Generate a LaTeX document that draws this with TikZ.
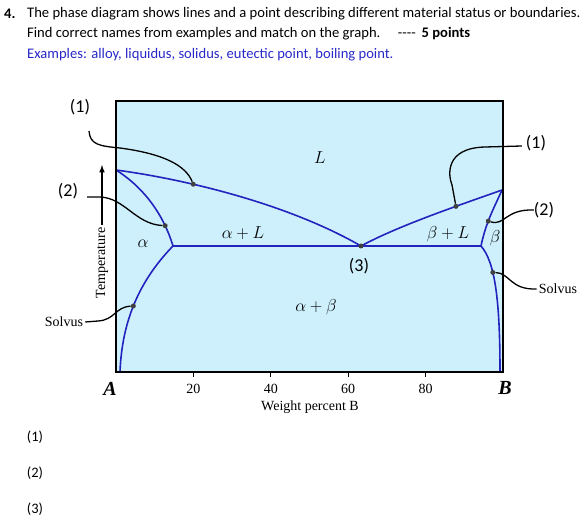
\documentclass[tikz,border=0pt]{standalone}
\usepackage{fontspec}
\setmainfont{Carlito}
\newfontfamily\plotserif{Liberation Serif}
\usetikzlibrary{positioning}
\definecolor{phasefill}{RGB}{205,240,252}
\definecolor{phaseline}{RGB}{35,35,190}
\definecolor{exblue}{RGB}{40,40,200}

\tikzset{
  phase/.style={draw=phaseline,line width=1.6pt},
  callout/.style={draw=black,line width=1.3pt},
  hit/.style={circle,fill=black!75,inner sep=0pt,minimum size=5pt},
  tag/.style={font=\fontsize{18}{20}\selectfont,inner sep=0pt},
  answer/.style={font=\fontsize{14.5}{16}\selectfont,inner sep=0pt},
  header/.style={anchor=west,inner sep=0pt,font=\fontsize{14.6}{16}\selectfont},
  axistext/.style={inner sep=0pt,font=\plotserif\fontsize{14}{16}\selectfont},
  region/.style={inner sep=0pt,font=\fontsize{17}{19}\selectfont},
  corner/.style={inner sep=0pt,font=\plotserif\itshape\bfseries\fontsize{20}{22}\selectfont},
}

\begin{document}
\begin{tikzpicture}[x=1pt,y=-1pt]
	\useasboundingbox (0,0) rectangle (586,521);
	% question
	\node[header,font=\bfseries\fontsize{14.6}{16}\selectfont] (qnum) at (4,14) {4.};
	\node[header] (q1) at (27,14) {The phase diagram shows lines and a point describing different material status or boundaries.};
	\node[header] (q2) at (27,34) {Find correct names from examples and match on the graph.\hspace{1.2em}{-}{-}{-}{-}\hspace{0.4em}\textbf{5 points}};
	\node[header,text=exblue] (q3) at (27,55) {Examples: alloy, liquidus, solidus, eutectic point, boiling point.};

	% frame
	\fill[phasefill] (116,101) rectangle (503,372);

	% boundaries
	\coordinate (Ta) at (116,170);
	\coordinate (Tb) at (502,190);
	\coordinate (eut) at (361,246);
	\coordinate (sa) at (173,246);
	\coordinate (sb) at (481,246);
	\draw[phase] (Ta) .. controls (190,180) and (290,205) .. (eut) coordinate[pos=0.32] (liqA);
	\draw[phase] (eut) .. controls (400,225) and (460,205) .. (Tb) coordinate[pos=0.67] (liqB);
	\draw[phase] (Ta) .. controls (140,185) and (162,210) .. (sa) coordinate[pos=0.8] (solA);
	\draw[phase] (Tb) .. controls (494,208) and (486,222) .. (sb) coordinate[pos=0.6] (solB);
	\draw[phase] (sa) .. controls (140,280) and (122,320) .. (120,372) coordinate[pos=0.53] (svA);
	\draw[phase] (sb) .. controls (495,262) and (500,300) .. (500,372) coordinate[pos=0.36] (svB);
	\draw[phase] (sa) -- (sb);
	\draw[line width=1.8pt] (116,101) rectangle (503,372);

	% regions
	\node[region] (rL) at (320,158) {$L$};
	\node[region] (rAL) at (243,233) {$\alpha+L$};
	\node[region] (rA) at (143,244) {$\alpha$};
	\node[region] (rBL) at (448,234) {$\beta+L$};
	\node[region] (rB) at (495,238) {$\beta$};
	\node[region] (rAB) at (316,307) {$\alpha+\beta$};

	% dots
	\node[hit] (d1a) at (liqA) {};
	\node[hit] (d1b) at (liqB) {};
	\node[hit] (d2a) at (solA) {};
	\node[hit] (d2b) at (solB) {};
	\node[hit] (dsa) at (svA) {};
	\node[hit] (dsb) at (svB) {};
	\node[hit] (d3) at (eut) {};
	\node[tag] (n3) at (359,266) {(3)};

	% callouts
	\node[tag] (n1a) at (80,107) {(1)};
	\coordinate (f1a) at (89,131);
	\draw[callout] (f1a) .. controls (90,145) and (100,146) .. (120,148) .. controls (165,154) and (186,166) .. (d1a);
	\node[tag] (n2a) at (68,191) {(2)};
	\coordinate (f2a) at (87,197);
	\draw[callout] (f2a) -- (100,197) .. controls (125,198) and (135,224) .. (d2a);
	\node[tag] (n1b) at (536,143) {(1)};
	\draw[callout] (n1b.west) ++(-4,3) -- (485,147) .. controls (445,148) and (448,175) .. (452,185) .. controls (454,195) .. (d1b);
	\node[tag] (n2b) at (544,210) {(2)};
	\draw[callout] (n2b.west) .. controls (505,209) and (505,226) .. (d2b);
	\node[axistext] (sb) at (558,289) {Solvus};
	\draw[callout] (sb.west) ++(-2,0) .. controls (510,290) and (510,273) .. (dsb);
	\node[axistext] (sa) at (64,322) {Solvus};
	\draw[callout] (sa.east) ++(2,0) -- (98,321) .. controls (115,320) and (115,307) .. (dsa);

	% axes
	\node[axistext,rotate=90] (temp) at (102,263) {Temperature};
	\coordinate (tempTop) at (102,165);
	\draw[-latex,line width=1.5pt] (temp.east) ++(0,-3) -- (tempTop);
	\foreach \w in {20,40,60,80} {
		\draw[line width=0.8pt] ({116+3.87*\w},372) -- ({116+3.87*\w},377);
		\node[axistext] at ({116+3.87*\w},389) {\w};
	}
	\node[corner] (cA) at (110,389) {A};
	\node[corner] (cB) at (505,388) {B};
	\node[axistext] (wt) at (310,407) {Weight percent B};

	% answers
	\node[answer] (a1) at (35,437) {(1)};
	\node[answer] (a2) at (35,473) {(2)};
	\node[answer] (a3) at (35,509) {(3)};
\end{tikzpicture}
\end{document}
